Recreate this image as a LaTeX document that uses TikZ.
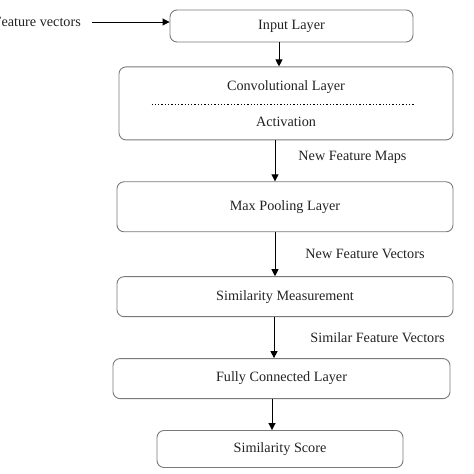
\documentclass[tikz,border=0pt]{standalone}
\usepackage{fontspec}
\setmainfont{Liberation Serif}
\usetikzlibrary{arrows.meta,positioning}
\definecolor{boxline}{HTML}{7A7A7A}
\definecolor{inkdark}{HTML}{222222}

\begin{document}
\begin{tikzpicture}[
  x=1pt, y=1pt,
  every node/.style={font=\fontsize{14.2}{16}\selectfont, text=inkdark},
  layer/.style={rectangle, rounded corners=7pt, draw=boxline, line width=0.9pt, align=center, minimum width=336pt, minimum height=40pt},
  flow/.style={-{Triangle[length=7pt, width=7pt]}, line width=0.9pt, black},
  flowlabel/.style={right, inner sep=0pt},
]
\useasboundingbox (0,0) rectangle (474,474);

% Input
\node[layer, minimum width=243pt, minimum height=32pt] (input) at (291.5,448) {Input Layer};
\node[anchor=east, inner sep=0pt] (feat) at (81,452) {Feature vectors};
\draw[flow] ([xshift=11pt]feat.east) -- (feat.east -| input.west);

% Convolution + activation
\node[layer, minimum width=334pt, minimum height=73pt, below=24pt of input, xshift=-5.5pt] (conv)
  {Convolutional Layer\\[20pt]Activation};
\draw[dotted, line width=1.3pt] ([xshift=33pt,yshift=-1pt]conv.west) -- ([xshift=-38pt,yshift=-1pt]conv.east);

% Pooling
\node[layer, minimum height=50pt, below=41pt of conv, xshift=-1pt] (pool) {Max Pooling Layer};

% Similarity
\node[layer, below=44pt of pool] (sim) {Similarity Measurement};

% Fully connected
\node[layer, minimum width=337pt, below=41pt of sim, xshift=-3.5pt] (fc) {Fully Connected Layer};

% Score
\node[layer, minimum width=246pt, minimum height=37pt, below=31pt of fc, xshift=-1.5pt] (score) {Similarity Score};

% Arrows
\draw[flow] ([xshift=-12.5pt]input.south) -- ([xshift=-12.5pt]input.south |- conv.north);
\draw[flow] ([xshift=-11pt]conv.south) -- ([xshift=-11pt]conv.south |- pool.north)
  node[flowlabel, midway, xshift=23pt, yshift=3pt] {New Feature Maps};
\draw[flow] ([xshift=-10pt]pool.south) -- ([xshift=-10pt]pool.south |- sim.north)
  node[flowlabel, midway, xshift=30pt] {New Feature Vectors};
\draw[flow] ([xshift=-11pt]sim.south) -- ([xshift=-11pt]sim.south |- fc.north)
  node[flowlabel, midway, xshift=36pt] {Similar Feature Vectors};
\draw[flow] ([xshift=-9.5pt]fc.south) -- ([xshift=-9.5pt]fc.south |- score.north);

\end{tikzpicture}
\end{document}
